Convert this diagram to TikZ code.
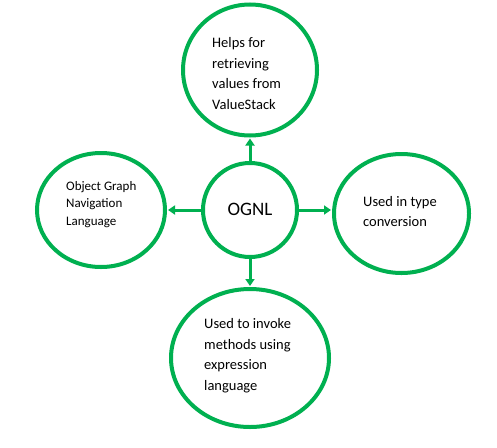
\documentclass[tikz,border=0pt]{standalone}
\usepackage{fontspec}
\setmainfont{Carlito}
\usetikzlibrary{shapes.geometric,arrows.meta}
\definecolor{ogreen}{RGB}{0,176,80}
\tikzset{
  bubble/.style={draw=ogreen, line width=4pt, ellipse, inner sep=0pt},
  link/.style={draw=ogreen, line width=3pt, -{Triangle[length=7pt,width=9pt]}, shorten >=1pt},
  txt/.style={inner sep=0pt, align=left, anchor=base west, text=black, font=\fontsize{14.5}{20.5}\selectfont},
}
\begin{document}
\begin{tikzpicture}[x=1pt,y=-1pt]
\useasboundingbox[fill=white] (0,0) rectangle (497,447);
\node[bubble, minimum width=134pt, minimum height=131pt] (top) at (250,70) {};
\node[bubble, minimum width=128pt, minimum height=114pt] (left) at (101,210) {};
\node[bubble, minimum width=94pt, minimum height=94pt] (ognl) at (250,210) {};
\node[bubble, minimum width=135pt, minimum height=119pt] (right) at (401.5,213.5) {};
\node[bubble, minimum width=158pt, minimum height=138pt] (bottom) at (250,358) {};
\node[inner sep=0pt, anchor=base, font=\fontsize{19}{22}\selectfont] (ognltext) at (250,215) {OGNL};
\node[txt] (toptext) at (212,109) {Helps for\\retrieving\\values from\\ValueStack};
\node[txt, font=\fontsize{13}{17.5}\selectfont] (lefttext) at (66,225) {Object Graph\\Navigation\\Language};
\node[txt] (righttext) at (363,226.7) {Used in type\\conversion};
\node[txt] (bottomtext) at (204,390) {Used to invoke\\methods using\\expression\\language};
\draw[link] (ognl.north) -- (top.south);
\draw[link] (ognl.south) -- (bottom.north);
\draw[link] (ognl.west) -- (left.east);
\draw[link] (ognl.east) -- (ognl.east -| right.west);
\end{tikzpicture}
\end{document}
